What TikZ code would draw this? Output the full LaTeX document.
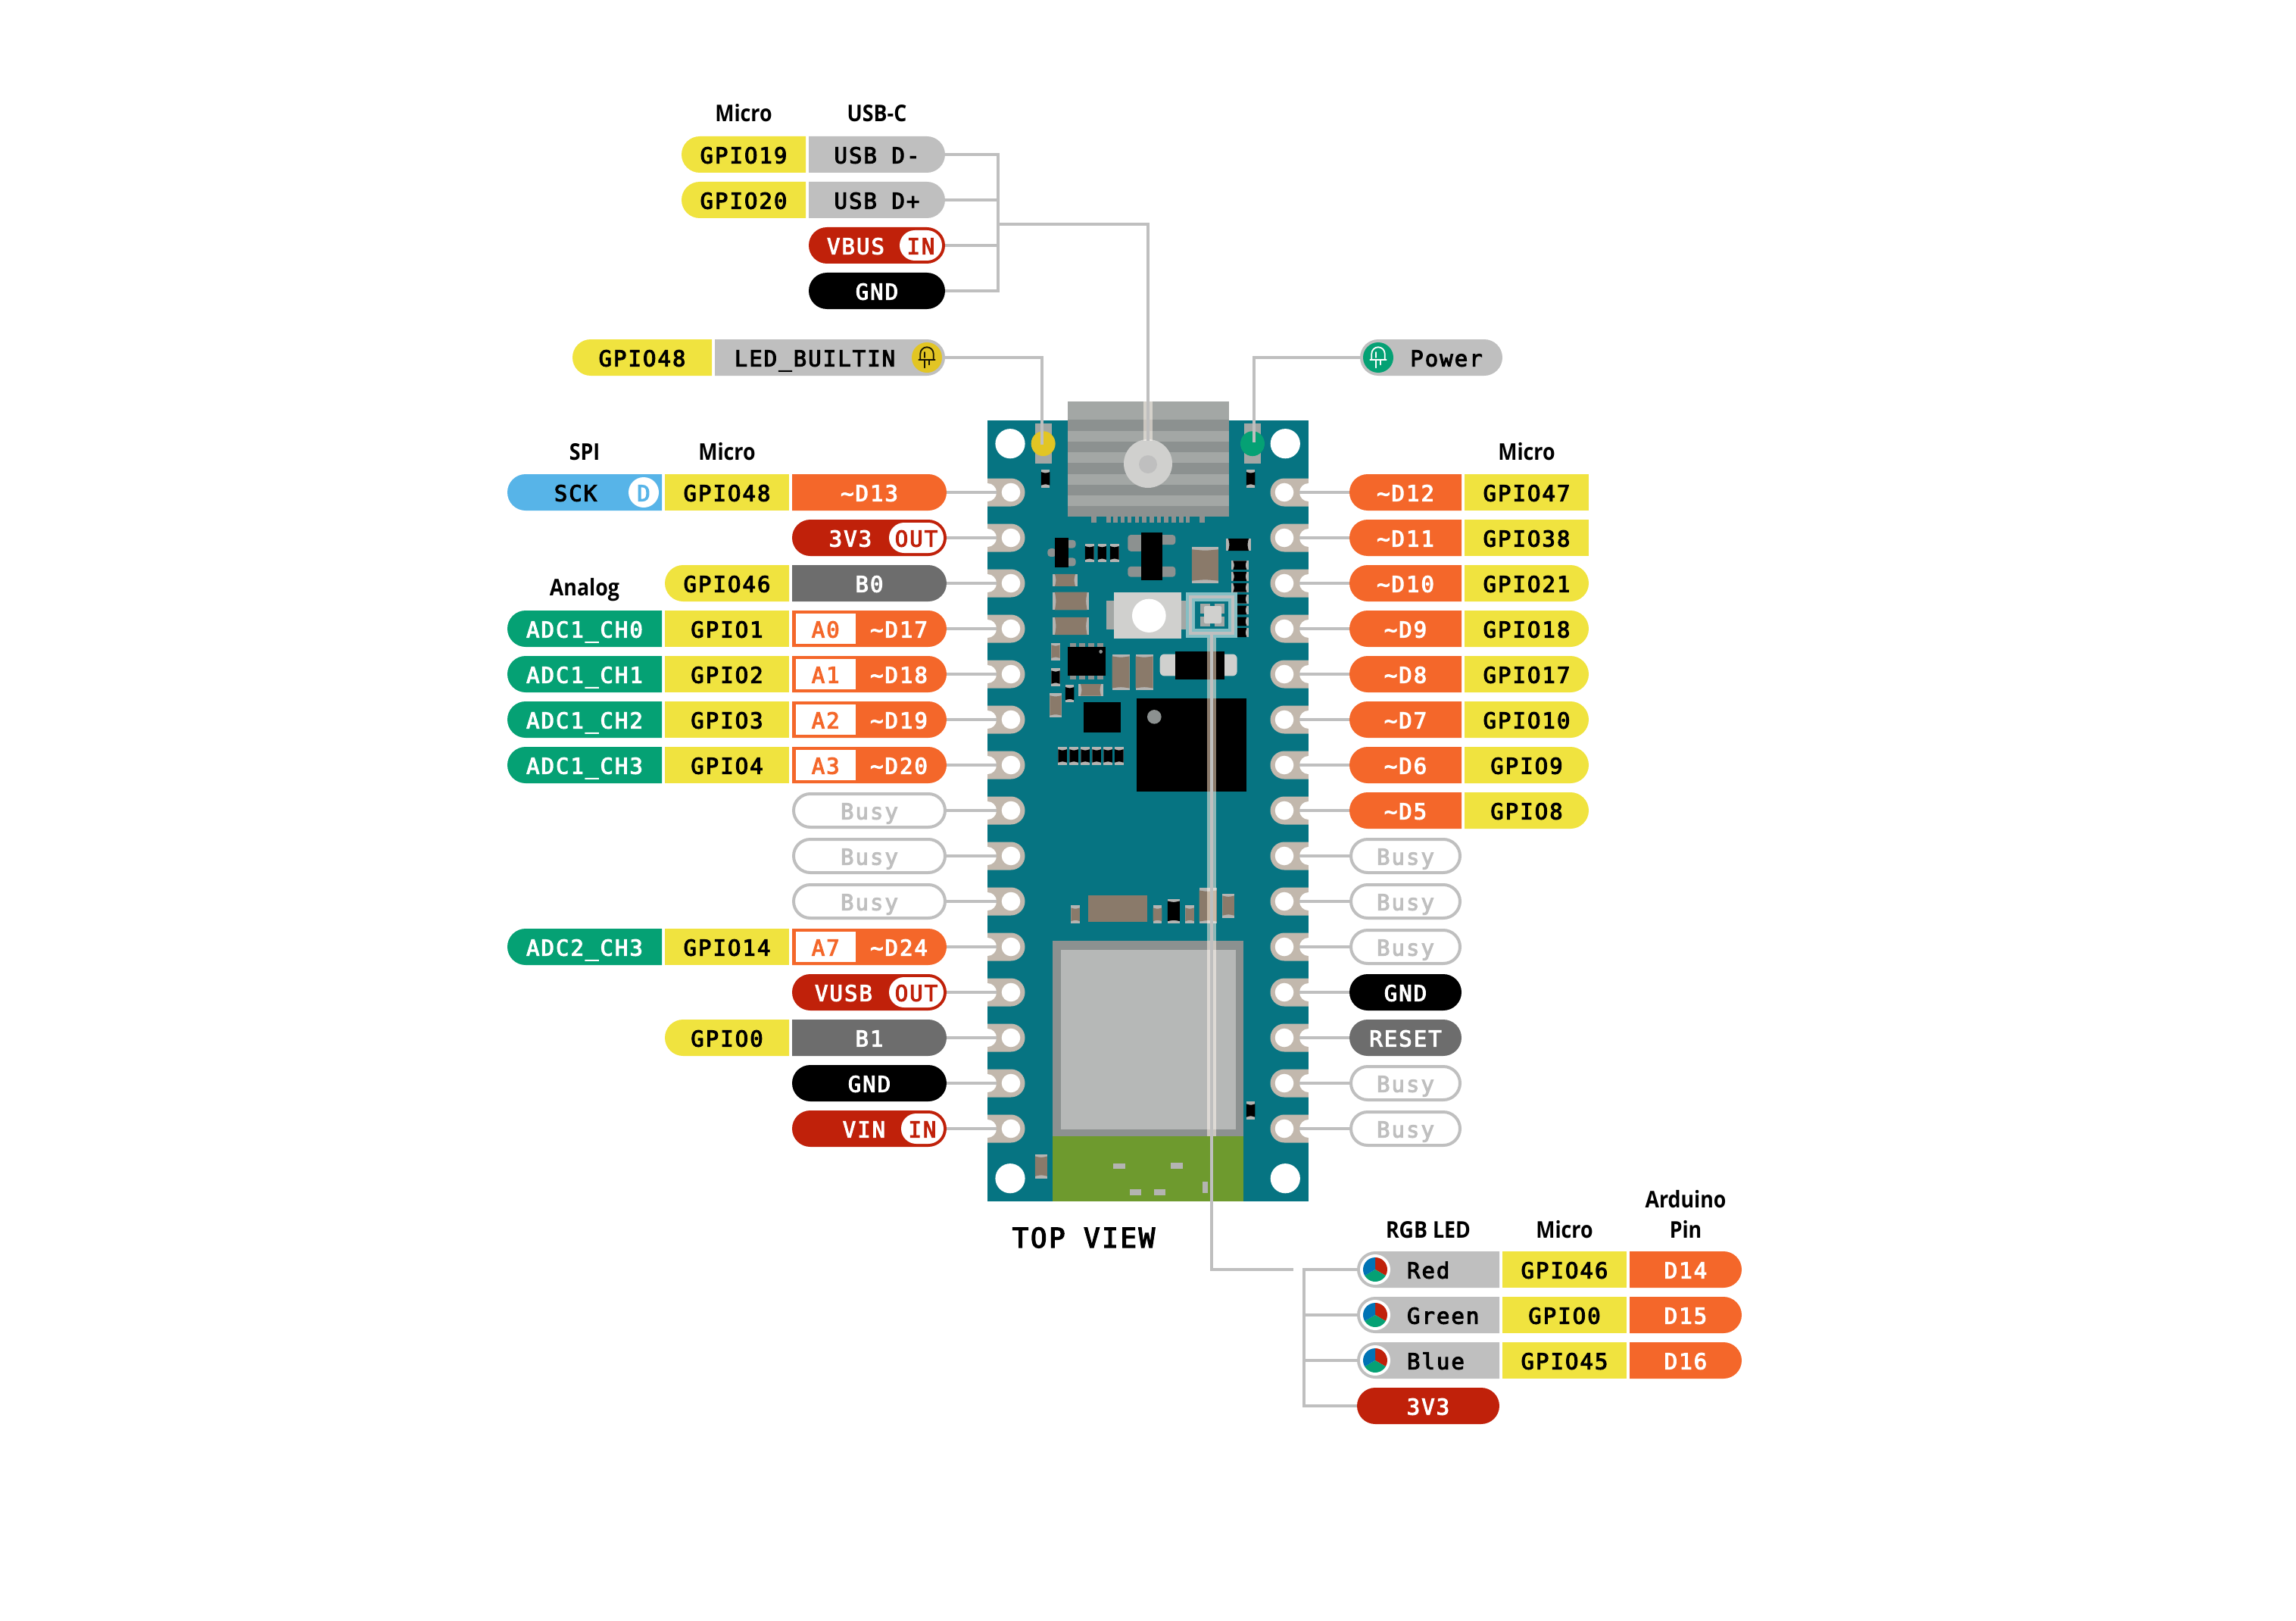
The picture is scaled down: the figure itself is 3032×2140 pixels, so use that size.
\documentclass[tikz,border=0pt]{standalone}
\usepackage{fontspec}
\newfontfamily\pinf[LetterSpace=7,FakeBold=3.5]{DejaVu Sans Mono}
\newfontfamily\headf[FakeStretch=0.88]{Open Sans}
\makeatletter
\newcommand{\pillpath}[2]{%
  \southwest\edef\pxa{\the\pgf@x}\edef\pya{\the\pgf@y}%
  \northeast\edef\pxb{\the\pgf@x}\edef\pyb{\the\pgf@y}%
  \pgfmathsetlengthmacro\prr{(\pyb-\pya)/2}%
  \pgfmathsetlengthmacro\pxl{\pxa+\prr}%
  \pgfmathsetlengthmacro\pxr{\pxb-\prr}%
  \ifnum#1=1
    \pgfpathmoveto{\pgfqpoint{\pxl}{\pya}}%
    \pgfpatharc{270}{90}{\prr}%
  \else
    \pgfpathmoveto{\pgfqpoint{\pxa}{\pya}}%
    \pgfpathlineto{\pgfqpoint{\pxa}{\pyb}}%
  \fi
  \ifnum#2=1
    \pgfpathlineto{\pgfqpoint{\pxr}{\pyb}}%
    \pgfpatharc{90}{-90}{\prr}%
  \else
    \pgfpathlineto{\pgfqpoint{\pxb}{\pyb}}%
    \pgfpathlineto{\pgfqpoint{\pxb}{\pya}}%
  \fi
  \pgfpathclose
}
\pgfdeclareshape{pillleft}{\inheritsavedanchors[from=rectangle]\inheritanchorborder[from=rectangle]
  \inheritanchor[from=rectangle]{center}\inheritanchor[from=rectangle]{west}\inheritanchor[from=rectangle]{east}
  \inheritanchor[from=rectangle]{north}\inheritanchor[from=rectangle]{south}\inheritanchor[from=rectangle]{base}
  \backgroundpath{\pillpath{1}{0}}}
\pgfdeclareshape{pillright}{\inheritsavedanchors[from=rectangle]\inheritanchorborder[from=rectangle]
  \inheritanchor[from=rectangle]{center}\inheritanchor[from=rectangle]{west}\inheritanchor[from=rectangle]{east}
  \inheritanchor[from=rectangle]{north}\inheritanchor[from=rectangle]{south}\inheritanchor[from=rectangle]{base}
  \backgroundpath{\pillpath{0}{1}}}
\pgfdeclareshape{pillboth}{\inheritsavedanchors[from=rectangle]\inheritanchorborder[from=rectangle]
  \inheritanchor[from=rectangle]{center}\inheritanchor[from=rectangle]{west}\inheritanchor[from=rectangle]{east}
  \inheritanchor[from=rectangle]{north}\inheritanchor[from=rectangle]{south}\inheritanchor[from=rectangle]{base}
  \backgroundpath{\pillpath{1}{1}}}
\makeatother
\definecolor{pyel}{HTML}{F0E33F}
\definecolor{pora}{HTML}{F4672A}
\definecolor{pgrn}{HTML}{05A174}
\definecolor{pred}{HTML}{C0210A}
\definecolor{pgry}{HTML}{6D6D6D}
\definecolor{lgry}{HTML}{BFBFBF}
\definecolor{pblu}{HTML}{57B4E8}
\definecolor{teal0}{HTML}{067482}
\definecolor{beig}{HTML}{C2B8AD}
\definecolor{brwn}{HTML}{8A7A6A}
\definecolor{sink1}{HTML}{A3A7A5}
\definecolor{sink2}{HTML}{8C9190}
\definecolor{capg}{HTML}{B4B4B2}
\definecolor{btn}{HTML}{D0D0CE}
\definecolor{shld}{HTML}{B6B8B7}
\definecolor{antg}{HTML}{6E9A2E}
\definecolor{halot}{HTML}{86BFC4}
\definecolor{ledy}{HTML}{E2C524}
\definecolor{rgbb}{HTML}{0073B5}
\tikzset{
  pinbase/.style={inner sep=0pt,outer sep=0pt,minimum height=12pt,text height=5.8pt,text depth=0pt,
     font=\pinf\fontsize{7.25pt}{8pt}\selectfont},
  rL/.style={pinbase,shape=pillleft},
  rR/.style={pinbase,shape=pillright},
  rB/.style={pinbase,shape=pillboth},
  sQ/.style={pinbase,rectangle},
  cY/.style={fill=pyel,text=black},
  cO/.style={fill=pora,text=white},
  cG/.style={fill=pgrn,text=white},
  cR/.style={fill=pred,text=white},
  cK/.style={fill=black,text=white},
  cD/.style={fill=pgry,text=white},
  cL/.style={fill=lgry,text=black},
  cB/.style={fill=pblu,text=black},
  busyp/.style={rB,fill=white,draw=lgry,line width=1pt,text=lgry,minimum height=11pt},
  badge/.style={rB,fill=white,minimum height=10pt},
  plain/.style={inner sep=0pt,outer sep=0pt,text height=5.8pt,text depth=0pt,
     font=\pinf\fontsize{7.25pt}{8pt}\selectfont},
  headt/.style={inner sep=0pt,outer sep=0pt,text height=5.8pt,text depth=0pt,text=black,
     font=\headf\bfseries\fontsize{7.6pt}{8pt}\selectfont},
  conn/.style={draw=lgry,line width=1pt},
  padp/.style={fill=beig},
}
\newcounter{tcnt}
\newcommand{\Pill}[6]{\node[#1,minimum width={(#4-#3)*0.25pt}] (#2) at ({(#3+#4)/2},#5) {#6};}
\newcommand{\Lbl}[4]{\stepcounter{tcnt}\node[plain,text=#1] (t\arabic{tcnt}) at (#2,#3) {#4};}
\newcommand{\Head}[3]{\stepcounter{tcnt}\node[headt] (t\arabic{tcnt}) at (#1,#2) {#3};}
\newcommand{\T}{\textasciitilde}
% components: x1 y1 x2 y2
\newcommand{\Rect}[5]{\fill[#1] (#2,#3) rectangle (#4,#5);}
\newcommand{\CapV}[5]{\fill[capg] (#2,#3) rectangle (#4,#5);
  \fill[#1] (#2,{#3+8}) .. controls ({(#2+#4)/2},{#3+13}) .. (#4,{#3+8}) -- (#4,{#5-8}) .. controls ({(#2+#4)/2},{#5-13}) .. (#2,{#5-8}) -- cycle;}
\newcommand{\CapH}[5]{\fill[capg] (#2,#3) rectangle (#4,#5);
  \fill[#1] ({#2+8},#3) .. controls ({#2+14},{(#3+#5)/2}) .. ({#2+8},#5) -- ({#4-8},#5) .. controls ({#4-14},{(#3+#5)/2}) .. ({#4-8},#3) -- cycle;}
\newcommand{\Led}[3]{\begin{scope}[shift={(#1,#2)}]
  \fill[#3] (0,0) circle[radius=20];
  \draw[black!90!#3,line width=.45pt,line cap=round] (-8.7,3) -- (-8.7,-5) arc[start angle=180,end angle=360,radius=8.7] -- (8.7,3);
  \draw[black!90!#3,line width=.45pt,line cap=round] (-10.7,3) -- (10.7,3) (-3.3,3) -- (-3.3,13.5) (2.7,3) -- (2.7,9.5) (-3.3,-7) -- (-3.3,0);
\end{scope}}
\newcommand{\LedW}[3]{\begin{scope}[shift={(#1,#2)}]
  \fill[#3] (0,0) circle[radius=20];
  \draw[white,line width=.45pt,line cap=round] (-8.7,3) -- (-8.7,-5) arc[start angle=180,end angle=360,radius=8.7] -- (8.7,3);
  \draw[white,line width=.45pt,line cap=round] (-10.7,3) -- (10.7,3) (-3.3,3) -- (-3.3,13.5) (2.7,3) -- (2.7,9.5) (-3.3,-7) -- (-3.3,0);
\end{scope}}
\newcommand{\Rgb}[2]{\begin{scope}[shift={(#1,#2)}]
  \fill[white] (0,0) circle[radius=20];
  \fill[pred] (0,0) -- (-90:16) arc[start angle=-90,end angle=30,radius=16] -- cycle;
  \fill[pgrn] (0,0) -- (30:16) arc[start angle=30,end angle=150,radius=16] -- cycle;
  \fill[rgbb] (0,0) -- (150:16) arc[start angle=150,end angle=270,radius=16] -- cycle;
\end{scope}}
\begin{document}
\begin{tikzpicture}[x=0.25pt,y=-0.25pt]
\useasboundingbox (0,0) rectangle (3032,2140);
% ---- board
\fill[teal0] (1304,555) rectangle (1728,1586);
\foreach \k in {0,...,14}{
  \pgfmathsetmacro{\yy}{650+60*\k}
  \fill[padp] (1304,\yy-18.5) -- (1335,\yy-18.5) arc[start angle=-90,end angle=90,radius=18.5] -- (1304,\yy+18.5) -- cycle;
  \fill[white] (1335,\yy) circle[radius=12.3];
  \fill[white] (1304,\yy) circle[radius=12];
  \fill[padp] (1728,\yy-18.5) -- (1696,\yy-18.5) arc[start angle=270,end angle=90,radius=18.5] -- (1728,\yy+18.5) -- cycle;
  \fill[white] (1696,\yy) circle[radius=12.3];
  \fill[white] (1728,\yy) circle[radius=12];
  \coordinate (LP\k) at (1316,\yy);
  \coordinate (RP\k) at (1716,\yy);
}
% mask anything left of / right of the board edge
\fill[white] (1290,630) rectangle (1304,1510);
\fill[white] (1728,630) rectangle (1742,1510);
\foreach \cx/\cy in {1334/585.7,1697.3/585.7,1334/1555.7,1697.3/1555.7}{\fill[white] (\cx,\cy) circle[radius=19.6];}
% ---- components, upper part (coordinates read from a crop)
\begin{scope}[xscale=1/3,yscale=1/2.8,shift={(3900,1456)}]
  % heat sink / USB
  \fill[sink2] (330,28) rectangle (968,455);
  \foreach \a/\b in {28/95,137/176,216/255,296/335,376/415}{\fill[sink1] (330,\a) rectangle (968,\b);}
  \fill[sink2] (424,455) rectangle (443,475);
  \foreach \a in {483,511,539,566,596,625,654,683,712,742,771,797}{\fill[sink2] (\a,455) rectangle ({\a+17},475);}
  \fill[sink2] (853,455) rectangle (873,475);
  % LEDs
  \Rect{sink1}{202}{110}{266}{258}
  \Rect{sink1}{1030}{110}{1095}{258}
  \fill[ledy] (233,184) ellipse[x radius=48,y radius=46];
  \fill[pgrn] (1062,184) ellipse[x radius=48,y radius=46];
  \CapV{black}{225}{281}{259}{346}
  \CapV{black}{1038}{281}{1072}{346}
  % transistor
  \fill[sink2,rounded corners=1pt] (250,572) rectangle (285,602);
  \fill[sink2,rounded corners=1pt] (325,540) rectangle (362,570);
  \fill[sink2,rounded corners=1pt] (325,606) rectangle (362,637);
  \Rect{black}{279}{533}{333}{642}
  \CapV{black}{399}{555}{434}{621}
  \CapV{black}{449}{555}{483}{621}
  \CapV{black}{498}{555}{533}{621}
  % regulator
  \fill[sink2,rounded corners=1pt] (568,521) rectangle (630,582);
  \fill[sink2,rounded corners=1pt] (695,521) rectangle (757,558);
  \fill[sink2,rounded corners=1pt] (568,638) rectangle (630,677);
  \fill[sink2,rounded corners=1pt] (695,638) rectangle (757,677);
  \Rect{black}{622}{512}{704}{689}
  \CapV{brwn}{822}{567}{927}{699}
  \CapH{black}{958}{535}{1055}{580}
  \foreach \a/\b in {617/650,658/692,700/733,742/775,783/816,825/858,866/899}{\CapH{black}{977}{\a}{1047}{\b}}
  \CapH{brwn}{271}{666}{368}{711}
  \CapH{brwn}{271}{733}{415}{799}
  \CapH{brwn}{271}{826}{415}{891}
  % button
  \Rect{sink1}{483}{765}{512}{870}
  \Rect{sink1}{779}{765}{800}{870}
  \Rect{btn}{512}{733}{779}{905}
  \fill[white] (652,820) ellipse[x radius=67,y radius=62];
  % small parts
  \CapV{brwn}{265}{920}{299}{985}
  \foreach \a in {340,376,411,447}{\fill[sink2] (\a,922) rectangle ({\a+23},1055);}
  \Rect{black}{330}{935}{479}{1041}
  \fill[sink2] (461,953) ellipse[x radius=7,y radius=7];
  \CapV{black}{265}{1015}{299}{1080}
  \CapV{black}{321}{1076}{355}{1140}
  \CapH{brwn}{373}{1073}{470}{1116}
  \CapV{brwn}{259}{1107}{305}{1197}
  \CapV{brwn}{506}{962}{575}{1096}
  \CapV{brwn}{599}{962}{668}{1096}
  \fill[btn,rounded corners=1.5pt] (695,962) rectangle (1001,1043);
  \Rect{black}{756}{952}{951}{1055}
  \Rect{black}{393}{1140}{540}{1252}
  \Rect{black}{603}{1125}{1037}{1469}
  \fill[sink2] (673,1194) ellipse[x radius=28,y radius=26];
  \foreach \a in {292,337,382,427,472,516}{\CapV{black}{\a}{1306}{\a+35}{1371}}
\end{scope}
% ---- components, lower part
\begin{scope}[xscale=1/3,yscale=1/2.703,shift={(3900,2838.15)}]
  \CapV{brwn}{343}{393}{378}{457}
  \Rect{brwn}{411}{358}{645}{451}
  \CapV{brwn}{668}{393}{703}{457}
  \CapV{black}{726}{369}{774}{457}
  \CapV{brwn}{796}{393}{831}{457}
  \CapV{brwn}{851}{331}{920}{458}
  \CapV{brwn}{943}{350}{990}{437}
  \Rect{sink2}{270}{519}{1026}{1217}
  \Rect{shld}{303}{552}{995}{1191}
  \Rect{antg}{270}{1217}{1026}{1448}
  \Rect{capg}{511}{1313}{557}{1333}
  \Rect{capg}{738}{1311}{785}{1332}
  \Rect{capg}{576}{1406}{621}{1426}
  \Rect{capg}{671}{1406}{717}{1426}
  \Rect{capg}{864}{1379}{886}{1420}
  \CapV{black}{1038}{1093}{1072}{1156}
  \CapV{brwn}{201}{1280}{249}{1367}
\end{scope}
% ---- RGB LED chip
\Rect{halot}{1566}{782}{1634}{842}
\Rect{lgry}{1570}{786}{1630}{838}
\Rect{halot}{1574}{790}{1626}{834}
\Rect{teal0}{1578}{794}{1622}{830}
\Rect{sink1}{1585}{797}{1598}{810}
\Rect{sink1}{1604}{797}{1617}{810}
\Rect{sink1}{1585}{814}{1598}{827}
\Rect{sink1}{1604}{814}{1617}{827}
\fill[btn,rounded corners=.5pt] (1590,800) rectangle (1613,823);
% ---- USB connector mark
\fill[btn] (1516,612) ellipse[x radius=32,y radius=32];
\fill[lgry] (1516,613) ellipse[x radius=12,y radius=12];
% ---- halos (lighten what lies beneath)
\begin{scope}[blend mode=screen]
  \fill[brwn] (1594,842) rectangle (1606,1500);
  \fill[brwn] (1510,530) rectangle (1522,582);
\end{scope}
% ---- left labels
\Pill{rL,cB}{sck}{670}{874}{650}{}
\Lbl{black}{760}{650}{SCK}
\Pill{badge,text=pblu}{dbadge}{830}{870}{650}{D}
\Pill{sQ,cY}{g48}{878}{1042}{650}{GPIO48}
\Pill{rR,cO}{d13}{1046}{1250}{650}{\T D13}
\Pill{rB,cR}{v33}{1046}{1250}{710}{}
\Lbl{white}{1123}{710}{3V3}
\Pill{badge,text=pred}{o1}{1174}{1246}{710}{OUT}
\Pill{rL,cY}{g46}{878}{1042}{770}{GPIO46}
\Pill{rR,cD}{b0}{1046}{1250}{770}{B0}
\foreach \k/\ch/\g/\a/\dd in {3/0/1/0/17,4/1/2/1/18,5/2/3/2/19,6/3/4/3/20}{
  \pgfmathsetmacro{\yy}{650+60*\k}
  \Pill{rL,cG}{adc\k}{670}{874}{\yy}{ADC1\_CH\ch}
  \Pill{sQ,cY}{gp\k}{878}{1042}{\yy}{GPIO\g}
  \Pill{rR,cO}{ap\k}{1046}{1250}{\yy}{}
  \Pill{sQ,fill=white,text=pora,minimum height=10pt}{ab\k}{1050.5}{1130}{\yy}{A\a}
  \Lbl{white}{1187}{\yy}{\T D\dd}
}
\foreach \k in {7,8,9}{
  \pgfmathsetmacro{\yy}{650+60*\k}
  \Pill{busyp}{lb\k}{1048}{1248}{\yy}{Busy}
}
\Pill{rL,cG}{adc10}{670}{874}{1250}{ADC2\_CH3}
\Pill{sQ,cY}{gp10}{878}{1042}{1250}{GPIO14}
\Pill{rR,cO}{ap10}{1046}{1250}{1250}{}
\Pill{sQ,fill=white,text=pora,minimum height=10pt}{ab10}{1050.5}{1130}{1250}{A7}
\Lbl{white}{1187}{1250}{\T D24}
\Pill{rB,cR}{vusb}{1046}{1250}{1310}{}
\Lbl{white}{1114}{1310}{VUSB}
\Pill{badge,text=pred}{o2}{1174}{1246}{1310}{OUT}
\Pill{rL,cY}{g0}{878}{1042}{1370}{GPIO0}
\Pill{rR,cD}{b1}{1046}{1250}{1370}{B1}
\Pill{rB,cK}{lgnd}{1046}{1250}{1430}{GND}
\Pill{rB,cR}{vin}{1046}{1250}{1490}{}
\Lbl{white}{1141}{1490}{VIN}
\Pill{badge,text=pred}{i2}{1190}{1246}{1490}{IN}
% ---- right labels
\foreach \k/\dn/\g in {0/12/47,1/11/38}{
  \pgfmathsetmacro{\yy}{650+60*\k}
  \Pill{rL,cO}{rd\k}{1782}{1930}{\yy}{\T D\dn}
  \Pill{sQ,cY}{rg\k}{1934}{2098}{\yy}{GPIO\g}
}
\foreach \k/\dn/\g in {2/10/21,3/9/18,4/8/17,5/7/10,6/6/9,7/5/8}{
  \pgfmathsetmacro{\yy}{650+60*\k}
  \Pill{rL,cO}{rd\k}{1782}{1930}{\yy}{\T D\dn}
  \Pill{rR,cY}{rg\k}{1934}{2098}{\yy}{GPIO\g}
}
\foreach \k in {8,9,10,13,14}{
  \pgfmathsetmacro{\yy}{650+60*\k}
  \Pill{busyp}{rd\k}{1784}{1928}{\yy}{Busy}
}
\Pill{rB,cK}{rd11}{1782}{1930}{1310}{GND}
\Pill{rB,cD}{rd12}{1782}{1930}{1370}{RESET}
% ---- pin connectors
\draw[conn] (d13.east) -- (LP0);
\draw[conn] (v33.east) -- (LP1);
\draw[conn] (b0.east) -- (LP2);
\foreach \k in {3,4,5,6}{\draw[conn] (ap\k.east) -- (LP\k);}
\foreach \k in {7,8,9}{\draw[conn] (lb\k.east) -- (LP\k);}
\draw[conn] (ap10.east) -- (LP10);
\draw[conn] (vusb.east) -- (LP11);
\draw[conn] (b1.east) -- (LP12);
\draw[conn] (lgnd.east) -- (LP13);
\draw[conn] (vin.east) -- (LP14);
\foreach \k in {0,...,14}{\draw[conn] (rd\k.west) -- (RP\k);}
% ---- USB group
\Head{982}{149}{Micro}
\Head{1158}{149}{USB-C}
\Pill{rL,cY}{g19}{900}{1064}{204}{GPIO19}
\Pill{rR,cL}{dm}{1068}{1248}{204}{USB D-}
\Pill{rL,cY}{g20}{900}{1064}{264}{GPIO20}
\Pill{rR,cL}{dp}{1068}{1248}{264}{USB D+}
\Pill{rB,cR}{vbus}{1068}{1248}{324}{}
\Lbl{white}{1130}{324}{VBUS}
\Pill{badge,text=pred}{i1}{1188}{1244}{324}{IN}
\Pill{rB,cK}{tgnd}{1068}{1248}{384}{GND}
\coordinate (usbT) at (1318,204);
\coordinate (usbB) at (1318,384);
\coordinate (usbJ) at (1318,296);
\coordinate (usbC) at (1516,296);
\coordinate (usbE) at (1516,582);
\draw[conn] (dm.east) -| (usbB) -- (tgnd.east);
\draw[conn] (dp.east) -- (dp.east -| usbT);
\draw[conn] (vbus.east) -- (vbus.east -| usbT);
\draw[conn] (usbJ) -- (usbC) -- (usbE);
% ---- LED builtin
\Pill{rL,cY}{g48b}{756}{940}{472}{GPIO48}
\Pill{rR,cL}{ledb}{944}{1248}{472}{}
\Lbl{black}{1076}{472}{LED\_BUILTIN}
\Led{1224}{472}{ledy}
\coordinate (ledyE) at (1376,587);
\draw[conn] (ledb.east) -| (ledyE);
% ---- Power
\Pill{rB,cL}{pwr}{1796}{1984}{472}{}
\LedW{1820}{472}{pgrn}
\Lbl{black}{1910}{472}{Power}
\coordinate (ledgE) at (1656,584);
\draw[conn] (pwr.west) -| (ledgE);
% ---- pin headers
\Head{772}{596}{SPI}
\Head{960}{596}{Micro}
\Head{772}{775}{Analog}
\Head{2016}{596}{Micro}
% ---- title
\node[inner sep=0pt,text height=6.5pt,text depth=0pt,font=\pinf\fontsize{9pt}{10pt}\selectfont] (topview) at (1431,1634) {TOP VIEW};
% ---- RGB group
\Head{1886}{1623}{RGB LED}
\Head{2066}{1623}{Micro}
\Head{2226}{1583}{Arduino}
\Head{2226}{1623}{Pin}
\foreach \k/\nm/\g/\dd in {0/Red/46/14,1/Green/0/15,2/Blue/45/16}{
  \pgfmathsetmacro{\yy}{1676+60*\k}
  \Pill{rL,cL}{rgb\k}{1792}{1980}{\yy}{}
  \Rgb{1816}{\yy}
  \stepcounter{tcnt}\node[plain,anchor=west,text=black] (t\arabic{tcnt}) at (1858,\yy) {\nm};
  \Pill{sQ,cY}{rgbg\k}{1984}{2148}{\yy}{GPIO\g}
  \Pill{rR,cO}{rgbd\k}{2152}{2300}{\yy}{D\dd}
}
\Pill{rB,cR}{rgb3}{1792}{1980}{1856}{3V3}
\coordinate (chipS) at (1600,838);
\coordinate (chipE) at (1708,1676);
\coordinate (rgbT) at (1722,1676);
\coordinate (rgbB) at (1722,1856);
\draw[conn] (chipS) |- (chipE);
\draw[conn] (rgb0.west) -| (rgbB) -- (rgb3.west);
\draw[conn] (rgb1.west) -- (rgb1.west -| rgbT);
\draw[conn] (rgb2.west) -- (rgb2.west -| rgbT);
\end{tikzpicture}
\end{document}
